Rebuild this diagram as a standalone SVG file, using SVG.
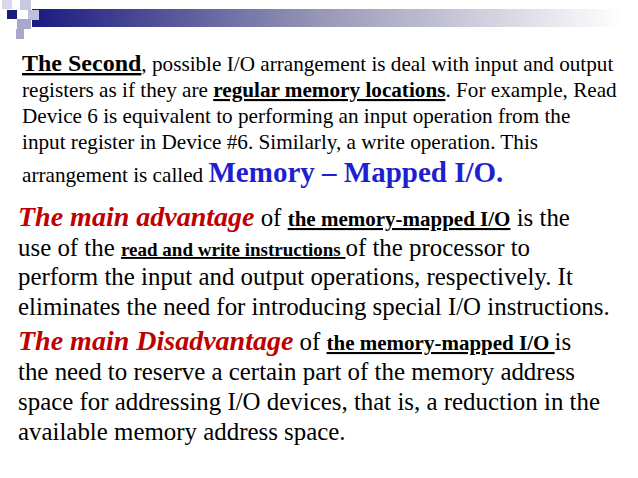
<svg xmlns="http://www.w3.org/2000/svg" width="638" height="478" viewBox="0 0 638 478">
<defs><linearGradient id="g" x1="0" x2="1" y1="0" y2="0"><stop offset="0" stop-color="#1a1a80"/><stop offset="0.5" stop-color="#9a9ab8"/><stop offset="1" stop-color="#ffffff"/></linearGradient></defs>
<style>
.s{font-family:"Liberation Serif",serif;font-size:21.2px;fill:#000}
.l{font-family:"Liberation Serif",serif;font-size:24.9px;fill:#000}
.b{font-weight:bold;text-decoration:underline}
.r{fill:#c00000;font-weight:bold;font-style:italic;font-size:28px}
.m{fill:#1f1fd0;font-weight:bold;font-size:29px}
</style>
<g id="header">
<rect x="32" y="9" width="590" height="18" fill="url(#g)"/>
<rect x="2" y="0" width="10" height="9" fill="#d8d8ec"/>
<rect x="7" y="10" width="10" height="9" fill="#1a1a80"/>
<rect x="20" y="0" width="11" height="10" fill="#c8c8e0"/>
<rect x="28" y="10" width="11" height="10" fill="#c0c0dc"/>
<rect x="17" y="19" width="14" height="10" fill="#a8a8cc"/>
<rect x="16" y="29" width="8" height="10" fill="#a8a8cc"/>
</g>
<g id="text">
<text class="s" x="22" y="71"><tspan class="b" font-size="24">The Second</tspan>, possible I/O arrangement is deal with input and output</text>
<text class="s" x="22" y="97">registers as if they are <tspan class="b">regular memory locations</tspan>. For example, Read</text>
<text class="s" x="22" y="123">Device 6 is equivalent to performing an input operation from the</text>
<text class="s" x="22" y="149">input register in Device #6. Similarly, a write operation. This</text>
<text class="s" x="22" y="182">arrangement is called <tspan class="m">Memory – Mapped I/O.</tspan></text>
<text class="l" x="18" y="226"><tspan class="r">The main advantage</tspan> of <tspan class="b" font-size="21">the memory-mapped I/O</tspan> is the</text>
<text class="l" x="18" y="256">use of the <tspan class="b" font-size="19">read and write instructions </tspan>of the processor to</text>
<text class="l" x="18" y="285">perform the input and output operations, respectively. It</text>
<text class="l" x="18" y="315">eliminates the need for introducing special I/O instructions.</text>
<text class="l" x="18" y="350"><tspan class="r">The main Disadvantage</tspan> of <tspan class="b" font-size="21">the memory-mapped I/O </tspan>is</text>
<text class="l" x="18" y="380">the need to reserve a certain part of the memory address</text>
<text class="l" x="18" y="410">space for addressing I/O devices, that is, a reduction in the</text>
<text class="l" x="18" y="440">available memory address space.</text>
</g>
</svg>
